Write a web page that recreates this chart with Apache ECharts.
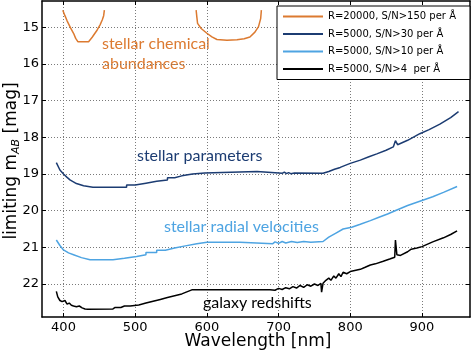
<!DOCTYPE html>
<html>
<head>
<meta charset="utf-8">
<script src="https://cdn.jsdelivr.net/npm/echarts@6/dist/echarts.min.js"></script>
<style>
  html, body { margin: 0; padding: 0; background: #fff; }
  #chart { width: 474px; height: 353px; }
</style>
</head>
<body>
<div id="chart"></div>
<script>
// tick values
const xTicks = [400, 500, 600, 700, 800, 900];
const yTicks = [15, 16, 17, 18, 19, 20, 21, 22];

const legendNames = [
  'R=20000, S/N>150 per Å',
  'R=5000, S/N>30 per Å',
  'R=5000, S/N>10 per Å',
  'R=5000, S/N>4  per Å'
];

// R=20000, S/N>150 (two windows)
const chemBlue = [
  [399, 14.53], [402, 14.68], [405, 14.82], [410, 15.02], [414, 15.16], [417, 15.3],
  [420, 15.39], [435, 15.39], [440, 15.27], [447, 15.07], [451, 14.93], [454, 14.8],
  [456, 14.68], [457, 14.53]
];
const chemRed = [
  [585, 14.53], [586, 14.72], [587, 14.89], [592, 15.03], [600, 15.16], [607, 15.26],
  [614, 15.33], [628, 15.35], [642, 15.34], [652, 15.31], [660, 15.26], [667, 15.13],
  [672, 14.98], [675, 14.76], [676, 14.53]
];

// R=5000, S/N>30
const params = [
  [390, 18.69], [395, 18.89], [400, 19.0], [405, 19.09], [409, 19.16], [418, 19.26],
  [428, 19.32], [441, 19.36], [488, 19.36], [488, 19.3], [500, 19.3], [500, 19.25],
  [515, 19.25], [515, 19.2], [530, 19.2], [530, 19.16], [545, 19.16], [545, 19.1],
  [555, 19.1], [555, 19.05], [565, 19.05], [565, 19.0], [580, 19.0], [580, 18.97],
  [597, 18.97], [597, 18.93], [670, 18.93], [670, 18.98], [705, 18.98], [708, 18.95],
  [711, 18.99], [714, 18.96], [717, 18.99], [722, 18.97], [762, 18.98], [770, 18.93],
  [778, 18.87], [786, 18.82], [792, 18.77], [800, 18.71], [814, 18.62], [826, 18.53],
  [837, 18.45], [850, 18.35], [860, 18.26], [863, 18.09], [866, 18.2], [880, 18.08],
  [897, 17.9], [910, 17.79], [925, 17.64], [940, 17.46], [951, 17.3]
];

// R=5000, S/N>10
const radial = [
  [390, 20.8], [395, 20.95], [400, 21.07], [407, 21.15], [414, 21.2], [425, 21.28],
  [437, 21.34], [469, 21.34], [469, 21.3], [485, 21.3], [485, 21.25], [502, 21.25],
  [502, 21.2], [515, 21.2], [515, 21.14], [530, 21.14], [530, 21.08], [542, 21.08],
  [542, 21.03], [555, 21.02], [570, 20.96], [586, 20.9], [600, 20.86], [646, 20.86],
  [646, 20.9], [692, 20.9], [695, 20.85], [700, 20.89], [705, 20.84], [710, 20.88],
  [718, 20.84], [726, 20.87], [735, 20.84], [745, 20.86], [762, 20.84], [770, 20.72],
  [780, 20.61], [790, 20.5], [802, 20.45], [814, 20.37], [828, 20.27], [840, 20.18],
  [852, 20.09], [865, 19.98], [880, 19.86], [900, 19.72], [915, 19.62], [930, 19.5],
  [949, 19.34]
];

// R=5000, S/N>4
const redshift = [
  [390, 22.2], [392, 22.35], [395, 22.45], [398, 22.48], [400, 22.5], [402, 22.45],
  [405, 22.55], [408, 22.52], [411, 22.58], [414, 22.6], [418, 22.62], [422, 22.6],
  [426, 22.65], [430, 22.68], [432, 22.64], [434, 22.69], [469, 22.68], [472, 22.64],
  [480, 22.64], [485, 22.6], [493, 22.6], [493, 22.57], [505, 22.57], [505, 22.52],
  [515, 22.52], [515, 22.47], [525, 22.47], [525, 22.42], [535, 22.42], [535, 22.37],
  [545, 22.37], [545, 22.32], [555, 22.32], [555, 22.27], [565, 22.27], [565, 22.22],
  [579, 22.16], [688, 22.16], [690, 22.13], [695, 22.17], [700, 22.12], [705, 22.15],
  [710, 22.1], [715, 22.13], [720, 22.07], [725, 22.11], [730, 22.04], [735, 22.09],
  [740, 22.02], [745, 22.06], [750, 22.0], [755, 22.04], [759, 21.98], [760, 22.22],
  [762, 21.98], [766, 21.9], [770, 21.84], [773, 21.9], [777, 21.78], [780, 21.84],
  [784, 21.72], [787, 21.8], [790, 21.68], [795, 21.72], [800, 21.66], [814, 21.6],
  [820, 21.55], [828, 21.48], [835, 21.45], [846, 21.38], [855, 21.32], [862, 21.27],
  [863, 20.8], [865, 21.2], [870, 21.22], [880, 21.12], [885, 21.05], [893, 21.02],
  [900, 20.98], [915, 20.85], [930, 20.74], [940, 20.65], [949, 20.55]
];

const colors = ['#dc7a30', '#1c3c72', '#4ea4e2', '#000000'];

const chart = echarts.init(document.getElementById('chart'), null, { renderer: 'canvas' });

const tickFont = { fontFamily: 'DejaVu Sans', fontSize: 13, color: '#000' };
const spine = { show: true, lineStyle: { color: '#000', width: 1.5 } };
const grid = { show: true, lineStyle: { color: '#7a7a7a', width: 1, type: [1, 2] } };

function line(name, data, color) {
  return {
    type: 'line',
    name: name,
    data: data,
    showSymbol: false,
    symbol: 'none',
    color: color,
    lineStyle: { color: color, width: 1.5 },
    animation: false
  };
}

const annoFont = 'Lato, "Open Sans", sans-serif';

chart.setOption({
  animation: false,
  grid: { left: 42, right: 4, top: 1, bottom: 36, outerBoundsMode: 'none', containLabel: false },
  legend: {
    orient: 'vertical',
    left: 277,
    top: 6,
    padding: [4, 14, 4, 6],
    itemWidth: 40,
    itemHeight: 2,
    itemGap: 4.5,
    icon: 'rect',
    borderColor: '#000',
    borderWidth: 1,
    backgroundColor: '#fff',
    textStyle: { fontFamily: 'DejaVu Sans', fontSize: 10, color: '#000', lineHeight: 13 },
    data: legendNames
  },
  xAxis: [
    {
      type: 'value', min: 370, max: 967, position: 'bottom',
      axisLine: spine,
      axisTick: { inside: true, length: 4, customValues: xTicks, lineStyle: { color: '#000' } },
      axisLabel: Object.assign({ customValues: xTicks, margin: 4 }, tickFont),
      splitLine: grid
    },
    {
      type: 'value', min: 370, max: 967, position: 'top',
      axisLine: spine,
      axisTick: { inside: true, length: 4, customValues: xTicks, lineStyle: { color: '#000' } },
      axisLabel: { show: false },
      splitLine: { show: false }
    }
  ],
  yAxis: [
    {
      type: 'value', min: 14.28, max: 22.9, inverse: true, position: 'left',
      axisLine: spine,
      axisTick: { inside: true, length: 4, customValues: yTicks, lineStyle: { color: '#000' } },
      axisLabel: Object.assign({ customValues: yTicks, margin: 3 }, tickFont),
      splitLine: grid
    },
    {
      type: 'value', min: 14.28, max: 22.9, inverse: true, position: 'right',
      axisLine: spine,
      axisTick: { inside: true, length: 4, customValues: yTicks, lineStyle: { color: '#000' } },
      axisLabel: { show: false },
      splitLine: { show: false }
    }
  ],
  series: [
    line(legendNames[0], chemBlue, colors[0]),
    line(legendNames[0], chemRed, colors[0]),
    line(legendNames[1], params, colors[1]),
    line(legendNames[2], radial, colors[2]),
    line(legendNames[3], redshift, colors[3])
  ],
  graphic: [
    // axis titles
    {
      type: 'text', x: 258, y: 342,
      style: { text: 'Wavelength [nm]', fill: '#000', font: '17px "DejaVu Sans"', align: 'center', verticalAlign: 'middle' }
    },
    {
      type: 'text', x: 12, y: 161, rotation: Math.PI / 2,
      style: {
        text: '{a|limiting m}{s|AB}{a| [mag]}', align: 'center', verticalAlign: 'middle',
        rich: {
          a: { fontFamily: 'DejaVu Sans', fontSize: 17, fill: '#000' },
          s: { fontFamily: 'DejaVu Sans', fontSize: 11, fontStyle: 'italic', fill: '#000', verticalAlign: 'bottom', padding: [8, 0, 0, 0] }
        }
      }
    },
    // annotations
    { type: 'text', left: 102, top: 34, style: { text: 'stellar chemical\nabundances', fill: colors[0], font: '16px ' + annoFont, lineHeight: 20 } },
    { type: 'text', left: 137, top: 148, style: { text: 'stellar parameters', fill: colors[1], font: '16px ' + annoFont } },
    { type: 'text', left: 164, top: 219, style: { text: 'stellar radial velocities', fill: colors[2], font: '16px ' + annoFont } },
    { type: 'text', left: 203, top: 295, style: { text: 'galaxy redshifts', fill: '#000', font: '16px ' + annoFont } }
  ]
});
</script>
</body>
</html>
